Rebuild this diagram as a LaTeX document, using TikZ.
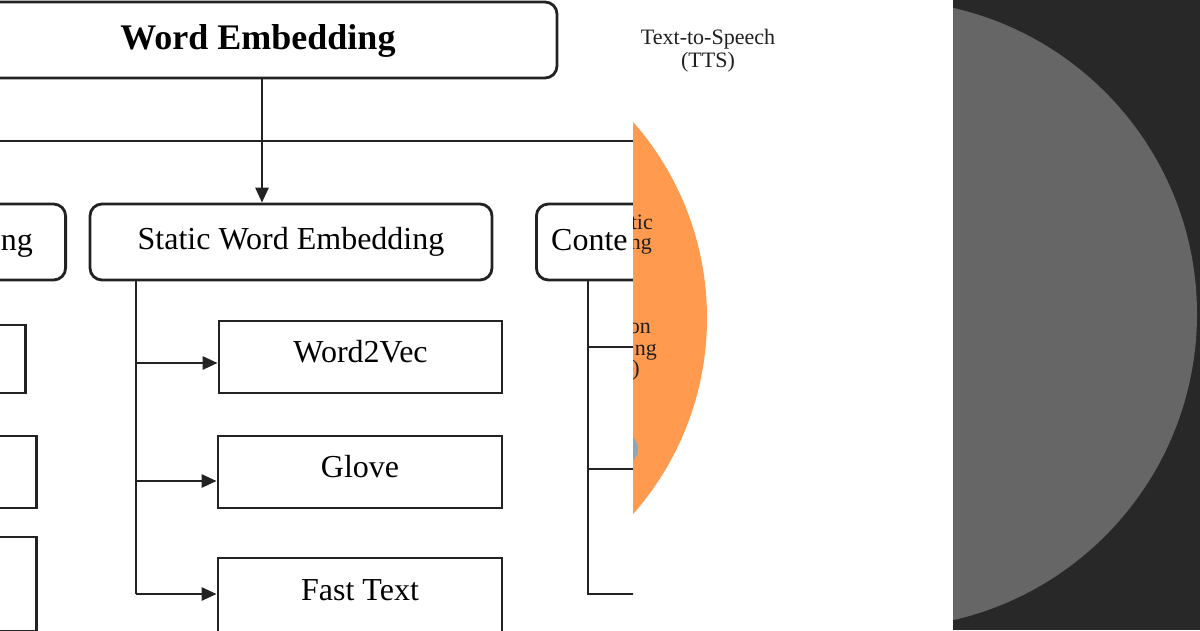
\documentclass[tikz,border=0pt]{standalone}
\usepackage{fontspec}
\setmainfont{Liberation Serif}
\usetikzlibrary{arrows.meta}

\definecolor{ttsorange}{HTML}{FF9A4E}
\definecolor{darkpanel}{HTML}{282828}
\definecolor{midgray}{HTML}{666666}
\definecolor{slateblue}{HTML}{8BA6B5}
\definecolor{inkline}{HTML}{222222}

\tikzset{
  rbox/.style={draw=inkline, line width=2.8pt, rounded corners=12pt, minimum height=76pt,
    inner sep=0pt, font=\fontsize{32}{36}\selectfont, text height=24pt, text depth=9pt},
  sbox/.style={draw=inkline, line width=2.8pt, minimum height=72pt,
    inner sep=0pt, font=\fontsize{32}{36}\selectfont, text height=24pt, text depth=14pt},
  link/.style={draw=inkline, line width=2.8pt},
  flow/.style={link, -{Triangle[length=15pt,width=13pt]}},
  note/.style={font=\fontsize{22}{23}\selectfont, text=black!88},
}

\begin{document}
\begin{tikzpicture}[x=1pt,y=-1pt]
  \useasboundingbox (0,0) rectangle (1200,630);
  \fill[white] (0,0) rectangle (953,630);
  \begin{scope}
    \clip (0,0) rectangle (633,630);
    \node[rbox, minimum width=598pt, font=\bfseries\fontsize{36}{40}\selectfont,
      text height=30pt, text depth=12pt] (we) at (258,40) {Word Embedding};
    \node[rbox, minimum width=402pt] (swe) at (291,242) {Static Word Embedding};
    \node[rbox, minimum width=300pt, anchor=east] (twe) at (67,242) {};
    \node[anchor=base east, inner sep=0pt, font=\fontsize{32}{36}\selectfont] (twelbl) at (33,250) {ng};
    \node[rbox, minimum width=300pt, anchor=west] (cwe) at (535,242) {};
    \node[anchor=base west, inner sep=0pt, font=\fontsize{32}{36}\selectfont] (cwelbl) at (551,250) {Conte};
    \node[sbox, minimum width=283pt] (w2v) at (360.5,357) {Word2Vec};
    \node[sbox, minimum width=284pt] (glv) at (360,472) {Glove};
    \node[sbox, minimum width=284pt, minimum height=74pt] (ftx) at (360,595) {Fast Text};
    \node[sbox, minimum width=200pt, minimum height=68pt, anchor=east] (lb1) at (27,359) {};
    \node[sbox, minimum width=200pt, anchor=east] (lb2) at (38,472) {};
    \node[sbox, minimum width=200pt, minimum height=94pt, anchor=east] (lb3) at (38,584) {};
    \coordinate (hl) at (-10,141);
    \coordinate (hr) at (640,141);
    \coordinate (drop) at (262,0);
    \draw[link] (hl) -- (hr);
    \draw[flow] (drop |- we.south) -- (drop |- swe.north);
    \coordinate (sp) at (136,0);
    \coordinate (spend) at (136,594);
    \draw[link] (sp |- swe.south) -- (spend);
    \foreach \y/\n in {363/w2v,481/glv,594/ftx} {
      \coordinate (b\n) at (136,\y);
      \draw[flow] (b\n) -- (b\n -| \n.west);
    }
    \coordinate (cs) at (588,0);
    \coordinate (cb1) at (588,347);
    \coordinate (cb2) at (588,469);
    \coordinate (cb3) at (588,594);
    \coordinate (ce1) at (640,347);
    \coordinate (ce2) at (640,469);
    \coordinate (ce3) at (640,594);
    \draw[link] (cs |- cwe.south) -- (cb3) -- (ce3);
    \draw[link] (cb1) -- (ce1);
    \draw[link] (cb2) -- (ce2);
  \end{scope}
  \begin{scope}
    \clip (633,0) rectangle (953,630);
    \fill[ttsorange] (410,318) circle[radius=297];
    \fill[slateblue] (622,449) circle[radius=16];
    \node[note, anchor=base east, inner sep=0pt] (fr1) at (653,229) {tic};
    \node[note, anchor=base east, inner sep=0pt] (fr2) at (652,249) {ng};
    \node[note, anchor=base east, inner sep=0pt] (fr3) at (651,333) {on};
    \node[note, anchor=base east, inner sep=0pt] (fr4) at (657,355) {ng};
    \node[note, anchor=base east, inner sep=0pt] (fr5) at (640,375) {)};
  \end{scope}
  \node[note, align=center, inner sep=0pt] (tts) at (708,51) {Text-to-Speech\\(TTS)};
  \fill[darkpanel] (953,0) rectangle (1200,630);
  \begin{scope}
    \clip (953,0) rectangle (1200,630);
    \fill[midgray] (883,314) circle[radius=314];
  \end{scope}
\end{tikzpicture}
\end{document}
